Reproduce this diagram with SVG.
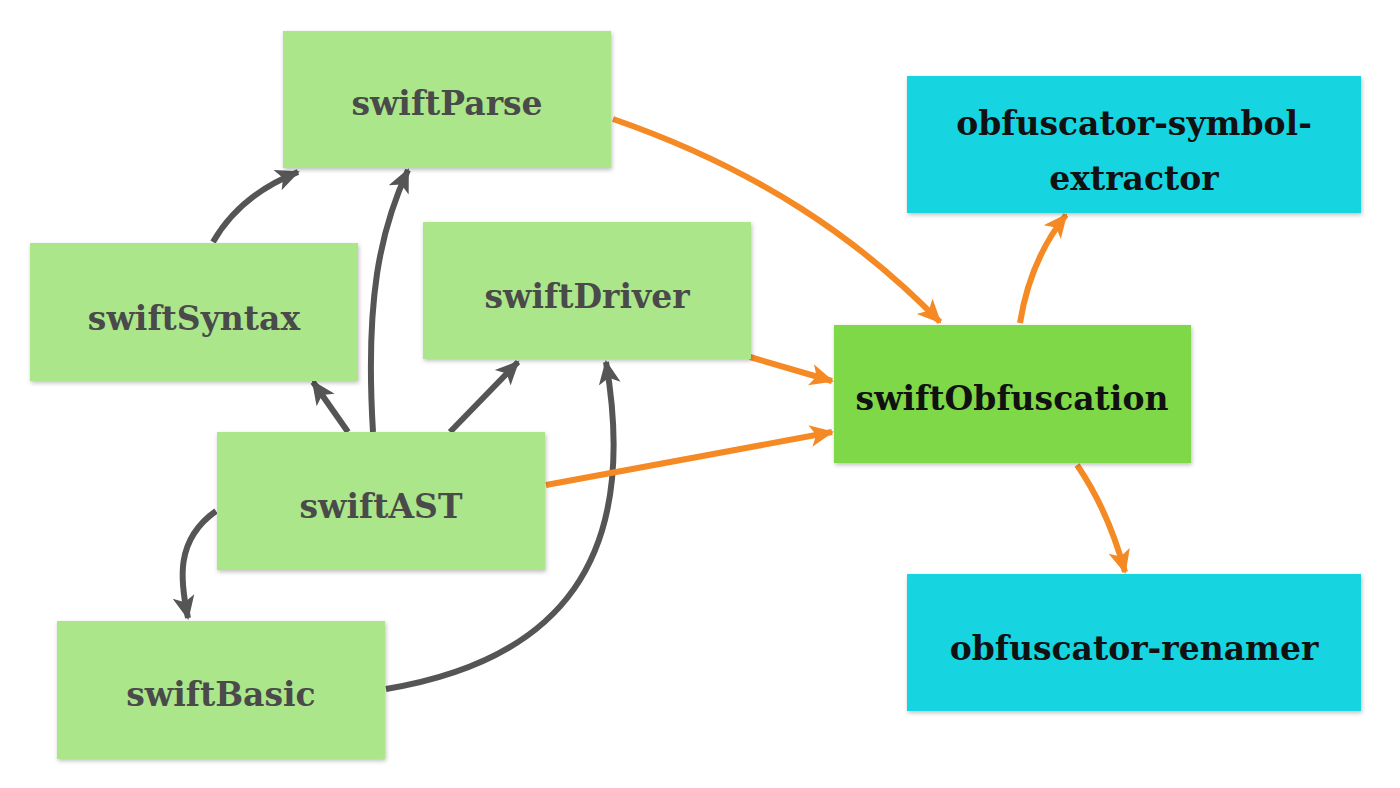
<svg xmlns="http://www.w3.org/2000/svg" width="1400" height="788" viewBox="0 0 1400 788">
<style>
.n{fill:#abe78a;filter:url(#sh)}
.c{fill:#16d5e0;filter:url(#sh)}
.o{fill:#7ed846;filter:url(#sh)}
text{font-family:"DejaVu Serif","Liberation Serif",serif;font-weight:bold;font-size:33px;text-anchor:middle;dominant-baseline:central;fill:#4a4a4a}
.k{fill:#111}
.g{fill:none;stroke:#555;stroke-width:6}
.r{fill:none;stroke:#f58a25;stroke-width:6}
</style>
<defs>
<filter id="sh" x="-5%" y="-5%" width="115%" height="120%"><feDropShadow dx="1" dy="2" stdDeviation="2" flood-opacity="0.25"/></filter>
<marker id="ag" markerUnits="userSpaceOnUse" markerWidth="26" markerHeight="24" refX="22" refY="12" orient="auto"><path d="M0,1 L24,12 L0,23 L6,12 Z" fill="#555"/></marker>
<marker id="ao" markerUnits="userSpaceOnUse" markerWidth="26" markerHeight="24" refX="22" refY="12" orient="auto"><path d="M0,1 L24,12 L0,23 L6,12 Z" fill="#f58a25"/></marker>
</defs>
<g id="connectors">
<path class="g" marker-end="url(#ag)" d="M213,242 Q240,195 298,172"/>
<path class="g" marker-end="url(#ag)" d="M373,432 C365,300 380,230 408,170"/>
<path class="g" marker-end="url(#ag)" d="M348,432 L313,382"/>
<path class="g" marker-end="url(#ag)" d="M450,432 L518,362"/>
<path class="g" marker-end="url(#ag)" d="M216,511 C175,540 180,580 188,618"/>
<path class="g" marker-end="url(#ag)" d="M386,689 C560,660 640,560 606,362"/>
<path class="r" marker-end="url(#ao)" d="M613,119 C760,170 860,240 940,322"/>
<path class="r" marker-end="url(#ao)" d="M750,357 L832,381"/>
<path class="r" marker-end="url(#ao)" d="M546,485 L832,432"/>
<path class="r" marker-end="url(#ao)" d="M1020,323 Q1030,260 1066,215"/>
<path class="r" marker-end="url(#ao)" d="M1077,465 Q1108,510 1125,572"/>
</g>
<g id="swiftParse"><rect class="n" x="283" y="31" width="328" height="137"/><text x="447" y="103">swiftParse</text></g>
<g id="swiftSyntax"><rect class="n" x="30" y="243" width="328" height="138"/><text x="194" y="318">swiftSyntax</text></g>
<g id="swiftDriver"><rect class="n" x="423" y="222" width="328" height="137"/><text x="587" y="296">swiftDriver</text></g>
<g id="swiftAST"><rect class="n" x="217" y="432" width="328" height="138"/><text x="381" y="506">swiftAST</text></g>
<g id="swiftBasic"><rect class="n" x="57" y="621" width="328" height="138"/><text x="221" y="694">swiftBasic</text></g>
<g id="swiftObfuscation"><rect class="o" x="834" y="325" width="357" height="138"/><text class="k" x="1012" y="398">swiftObfuscation</text></g>
<g id="obfuscator-symbol-extractor"><rect class="c" x="907" y="76" width="454" height="137"/><text class="k" x="1134" y="123">obfuscator-symbol-</text><text class="k" x="1134" y="178">extractor</text></g>
<g id="obfuscator-renamer"><rect class="c" x="907" y="574" width="454" height="137"/><text class="k" x="1134" y="648">obfuscator-renamer</text></g>
</svg>
